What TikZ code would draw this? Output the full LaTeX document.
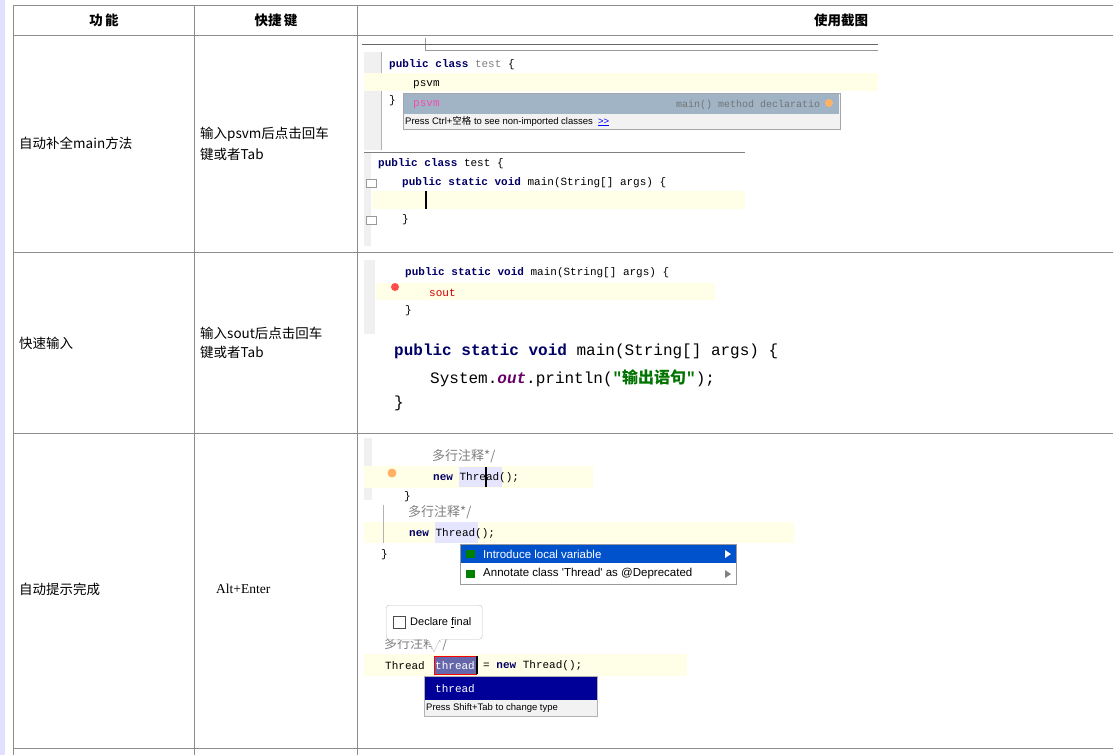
\documentclass[tikz,border=0pt]{standalone}
\usepackage{fontspec}
\setmainfont{Liberation Serif}
\newfontfamily\cjk{Noto Sans CJK SC}
\newfontfamily\ui{Liberation Sans}
\newfontfamily\cm{Liberation Mono}
\definecolor{popc}{RGB}{160,180,198}
\begin{document}
\begin{tikzpicture}[x=1pt,y=-1pt,
  grid/.style={draw=black!45,line width=0.8pt},
  txt/.style={anchor=west,inner sep=0pt,font=\cjk\fontsize{13.5}{15}\selectfont},
  code/.style={anchor=west,inner sep=0pt,font=\cm\fontsize{11}{12}\selectfont},
  bigcode/.style={anchor=west,inner sep=0pt,font=\cm\fontsize{16}{18}\selectfont},
  cmt/.style={anchor=west,inner sep=0pt,font=\cjk\fontsize{13}{14}\selectfont,text=black!50},
  hl/.style={fill=yellow!10!white,draw=none},
  gut/.style={fill=black!6,draw=none},
  kw/.style={text=blue!40!black}]
\useasboundingbox (0,0) rectangle (1113,755);
\fill[white] (0,0) rectangle (1113,755);
\fill[blue!12] (0,0) rectangle (5,755);
% grid
\draw[grid] (13,5) -- (1113,5);
\foreach \y in {35,252,433,748} \draw[grid] (13,\y) -- (1113,\y);
\foreach \x in {13,194,357} \draw[grid] (\x,5) -- (\x,755);
% header
\node[font=\cjk\bfseries\fontsize{13.5}{15}\selectfont] (h1) at (104,20) {功\,能};
\node[font=\cjk\bfseries\fontsize{13.5}{15}\selectfont] (h2) at (276,20) {快捷\,键};
\node[font=\cjk\bfseries\fontsize{13.5}{15}\selectfont] (h3) at (841,20) {使用截图};
% col 1 and 2
\node[txt] (f1) at (19,143) {自动补全main方法};
\node[txt] (k1) at (200,134) {输入psvm后点击回车};
\node[txt] (k1b) at (200,154) {键或者Tab};
\node[txt] (f2) at (19,343) {快速输入};
\node[txt] (k2) at (200,333) {输入sout后点击回车};
\node[txt] (k2b) at (200,352) {键或者Tab};
\node[txt] (f3) at (19,589) {自动提示完成};
\node[txt,font=\fontsize{13.5}{15}\selectfont] (k3) at (216,589) {Alt+Enter};
% ---- row 1 screenshot
\draw[black!40] (425,38) -- (425,50) -- (878,50);
\draw[black!60] (362,44) -- (878,44);
\fill[gut] (364,52) rectangle (381,150);
\draw[black!30] (381,52) -- (381,150);
\fill[hl] (364,73) rectangle (878,91);
\node[code,kw] (c1) at (389,65) {\bfseries public class \mdseries\color{black!50}test \color{black}\{};
\node[code] (c2) at (413,85) {psvm};
\node[code] (c3) at (389,101) {\}};
\node[draw=black!35,fill=black!5,minimum width=437,minimum height=36,anchor=north west,inner sep=0] (pop) at (403,93) {};
\fill[popc] (404,94) rectangle (839,114);
\node[code,text=magenta!70] (p1) at (413,105) {psvm};
\node[code,text=black!55,font=\cm\fontsize{10}{12}\selectfont] (p2) at (676,105) {main() method declaratio};
\fill[orange!60] (829,103) circle (4);
\node[anchor=west,inner sep=0,font=\ui\fontsize{9.5}{10}\selectfont] (p3) at (405,121) {Press Ctrl+{\cjk 空格} to see non-imported classes \ \textcolor{blue}{\underline{>>}}};
\draw[black!50] (364,152) -- (745,152);
\fill[gut] (364,153) rectangle (371,246);
\fill[hl] (372,191) rectangle (745,209);
\node[code,kw] (c4) at (378,164) {\bfseries public class \mdseries\color{black}test \{};
\node[code,kw] (c5) at (402,183) {\bfseries public static void \mdseries\color{black}main(String[] args) \{};
\draw[line width=1.5pt] (426,191) -- (426,209);
\node[code] (c6) at (402,220) {\}};
\foreach \y in {183,220} \draw[black!40,fill=white] (366,\y-4) rectangle (376,\y+4);
% ---- row 2
\fill[gut] (364,260) rectangle (375,334);
\fill[hl] (376,283) rectangle (715,300);
\node[code,kw] (d1) at (405,273) {\bfseries public static void \mdseries\color{black}main(String[] args) \{};
\node[code,text=red!80!black] (d2) at (429,293) {sout};
\fill[red!70] (395,287) circle (4);
\node[code] (d3) at (405,311) {\}};
\node[bigcode,kw] (e1) at (394,351) {\bfseries public static void \mdseries\color{black}main(String[] args) \{};
\node[bigcode] (e2) at (430,378) {System.\textcolor{violet!80!black}{\itshape\bfseries out}.println(\textcolor{green!45!black}{\bfseries "{\cjk 输出语句}"});};
\node[bigcode] (e3) at (394,403) {\}};
% ---- row 3
\fill[gut] (364,438) rectangle (372,500);
\fill[hl] (364,466) rectangle (593,488);
\fill[blue!10] (459,467) rectangle (502,487);
\node[cmt] (g1) at (432,456) {多行注释*/};
\node[code,kw] (g2) at (433,478) {\bfseries new \mdseries\color{black}Thread();};
\draw[line width=1.2pt] (486,467) -- (486,487);
\fill[orange!60] (392,473) circle (4.5);
\node[code] (g3) at (404,497) {\}};
\fill[hl] (364,522) rectangle (794,543);
\fill[blue!10] (435,522) rectangle (478,543);
\draw[black!30] (383,505) -- (383,543);
\node[cmt] (g4) at (408,512) {多行注释*/};
\node[code,kw] (g5) at (409,534) {\bfseries new \mdseries\color{black}Thread();};
\node[code] (g6) at (381,555) {\}};
\node[draw=black!40,fill=white,minimum width=276,minimum height=40,anchor=north west,inner sep=0] (menu) at (460,544) {};
\fill[blue!60!cyan!80!black] (461,545) rectangle (736,563);
\node[anchor=west,inner sep=0,text=white,font=\ui\fontsize{11.5}{12}\selectfont] (m1) at (483,554) {Introduce local variable};
\node[anchor=west,inner sep=0,font=\ui\fontsize{11.5}{12}\selectfont] (m2) at (483,574) {Annotate class 'Thread' as @Deprecated};
\fill[white] (725,550) -- (731,554) -- (725,558) -- cycle;
\fill[black!50] (725,570) -- (731,574) -- (725,578) -- cycle;
\fill[green!50!black] (466,550) rectangle (475,558);
\fill[green!50!black] (466,570) rectangle (475,578);
\fill[hl] (364,654) rectangle (687,676);
\node[cmt] (g7) at (384,644) {多行注释*/};
\node[draw=black!25,fill=white,rounded corners=3,minimum width=96,minimum height=34,anchor=north west,inner sep=0] (decl) at (386,605) {};
\filldraw[white,draw=black!25] (428,639) -- (434,652) -- (440,639);
\fill[white] (427,636) rectangle (441,640);
\draw[black!70] (393,616) rectangle (405,628);
\node[anchor=west,inner sep=0,font=\ui\fontsize{11}{12}\selectfont] (d) at (410,623) {Declare \underline{f}inal};
\fill[blue!45!black!60] (434,656) rectangle (476,674);
\draw[red,line width=0.8pt] (434,656) rectangle (476,674);
\draw[line width=1.5pt] (477,656) -- (477,674);
\node[code] (g8) at (385,666) {Thread};
\node[code,text=white] (g9) at (435,666) {thread};
\node[code] (g10) at (483,666) {= \textcolor{blue!40!black}{\bfseries new} Thread();};
\node[draw=black!30,fill=black!5,minimum width=173,minimum height=40,anchor=north west,inner sep=0] (tp) at (424,676) {};
\fill[blue!60!black] (425,677) rectangle (597,700);
\node[code,text=white] (t1) at (435,689) {thread};
\node[anchor=west,inner sep=0,font=\ui\fontsize{9.5}{10}\selectfont] (t2) at (426,708) {Press Shift+Tab to change type};
\end{tikzpicture}
\end{document}
